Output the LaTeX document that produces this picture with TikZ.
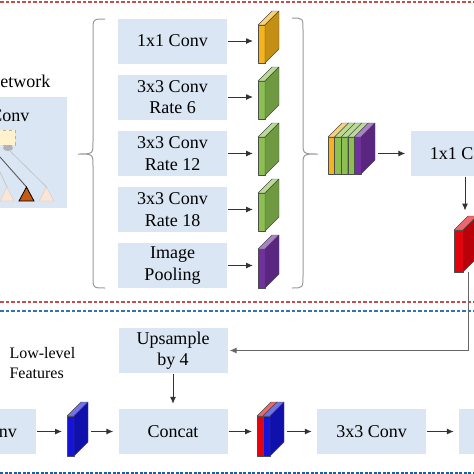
\documentclass[tikz,border=0pt]{standalone}
\usepackage{fontspec}
\setmainfont{Liberation Serif}
\usetikzlibrary{arrows.meta}

\definecolor{boxblue}{HTML}{DAE6F3}
\definecolor{mapyellow}{HTML}{F4B41A}
\definecolor{mapgreen}{HTML}{8CC152}
\definecolor{mappurple}{HTML}{7030A0}
\definecolor{mapred}{HTML}{E8000B}
\definecolor{mapblue}{HTML}{1414D8}
\definecolor{linered}{HTML}{C0504D}
\definecolor{lineblue}{HTML}{2E75B6}
\definecolor{linenavy}{HTML}{1F5F99}
\definecolor{treeorange}{HTML}{C55A11}
\definecolor{treepeach}{HTML}{FBE5D6}
\definecolor{treeyellow}{HTML}{FFF2CC}

\newcommand{\featmap}[6]{% name, x, y of front top corner, width, height, colour
  \filldraw[fill=#6, draw=black!70, line join=round] (#2,#3) rectangle ++(#4,#5); % front
  \filldraw[fill=#6!60!white, draw=black!70, line join=round] (#2,#3) -- ++(14,-14) -- ++(#4,0) -- ++(-14,14) -- cycle; % top
  \filldraw[fill=#6!80!black, draw=black!70, line join=round] (#2+#4,#3) -- ++(14,-14) -- ++(0,#5) -- ++(-14,14) -- cycle; % side
  \node[inner sep=0pt, minimum width=#4pt+14pt, minimum height=#5pt+14pt, anchor=south west] (#1) at (#2,#3+#5) {};
}

\begin{document}
\begin{tikzpicture}[x=1pt, y=-1pt, font=\fontsize{18}{21.6}\selectfont,
    box/.style={fill=boxblue, minimum width=109pt, minimum height=45pt, inner sep=0pt, align=center},
    arr/.style={-{Latex[length=7pt,width=6pt]}, line width=1pt, draw=black!80, shorten >=5pt, shorten <=1pt},
    sep/.style={line width=1.6pt, dash pattern=on 3.5pt off 2pt},
    brace/.style={draw=gray!80, line width=1pt}]
  \useasboundingbox (0,0) rectangle (474,474);
  \clip (0,0) rectangle (474,474); % the reference is cut at its edges

  % separators
  \draw[sep, linered] (0,2) -- (474,2);
  \draw[sep, linered] (0,302) -- (474,302);
  \draw[sep, lineblue] (0,311) -- (474,311);
  \draw[sep, linenavy, line width=2pt, dash pattern=on 3pt off 1.5pt] (0,472.5) -- (474,472.5);

  % encoder backbone
  \node[anchor=east] (net) at (54,81) {Network};
  \node[fill=boxblue, inner sep=0pt, minimum width=107pt, minimum height=111pt] (enc) at (13.5,152.5) {};
  \node[anchor=east] (atrous) at (33,116) {Conv};
  \filldraw[fill=treeyellow, draw=gray!60, dashed, line width=0.5pt] (-12,130) rectangle (15,145); % kernel
  \fill[gray!60] (8,148) ellipse (5 and 3);
  \draw[gray!45, line width=0.8pt] (9,150) -- (46.5,187);
  \draw[gray!45, line width=0.8pt] (0,172) -- (7,187);
  \draw[black!65, line width=0.9pt] (0,157) -- (26.5,187);
  \filldraw[fill=treepeach, draw=gray!40] (0,201) -- (7,187) -- (14,201) -- cycle;
  \filldraw[fill=treeorange, draw=black, line width=0.8pt] (19,201) -- (26.5,187) -- (34,201) -- cycle;
  \filldraw[fill=treepeach, draw=gray!40] (39,201) -- (46.5,187) -- (54,201) -- cycle;

  % atrous spatial pyramid pooling
  \draw[brace] (105,19) .. controls (93,19) .. (93,31) -- (93,142) .. controls (93,154) .. (78,154) .. controls (93,154) .. (93,166) -- (93,276) .. controls (93,288) .. (105,288); % left brace
  \node[box] (b1) at (172.5,41) {1x1 Conv};
  \node[box] (b6) at (172.5,97) {3x3 Conv\\Rate 6};
  \node[box] (b12) at (172.5,153.5) {3x3 Conv\\Rate 12};
  \node[box] (b18) at (172.5,209.5) {3x3 Conv\\Rate 18};
  \node[box] (pool) at (172.5,265.5) {Image\\Pooling};
  \featmap{m1}{258}{25}{7}{38}{mapyellow}
  \featmap{m6}{258}{81}{7}{38}{mapgreen}
  \featmap{m12}{258}{137}{7}{38}{mapgreen}
  \featmap{m18}{258}{193}{7}{38}{mapgreen}
  \featmap{mpool}{258}{249}{7}{39}{mappurple}
  \foreach \b/\m in {b1/m1, b6/m6, b12/m12, b18/m18, pool/mpool}
    \draw[arr] (\b.east) -- (\b.east -| \m.west);
  \draw[brace] (292,18) .. controls (303,18) .. (303,30) -- (303,142) .. controls (303,154) .. (318,154) .. controls (303,154) .. (303,166) -- (303,276) .. controls (303,288) .. (292,288); % right brace

  % concatenated maps
  \featmap{s1}{328}{137}{6.6}{37}{mapyellow}
  \featmap{s2}{334.6}{137}{6.6}{37}{mapgreen}
  \featmap{s3}{341.2}{137}{6.6}{37}{mapgreen}
  \featmap{s4}{347.8}{137}{6.6}{37}{mapgreen}
  \featmap{s5}{354.4}{137}{6.6}{37}{mappurple}
  \node[box] (conv) at (465,153.5) {1x1 Conv};
  \draw[arr, shorten <=3pt] (s5.east |- conv.west) -- (conv.west);
  \featmap{red}{454}{230}{9}{42}{mapred}
  \draw[arr] (conv.south) -- (conv.south |- red.north);

  % decoder
  \node[box] (up) at (173,350.5) {Upsample\\by 4};
  \node[box] (cat) at (173,431.5) {Concat};
  \node[box] (low) at (-18.5,431.5) {1x1 Conv};
  \node[box] (conv3) at (371.5,431.5) {3x3 Conv};
  \node[box] (out) at (513.5,431.5) {};
  \node[anchor=west, align=left, font=\fontsize{16}{19.4}\selectfont] (feat) at (6,363) {Low-level\\Features};
  \featmap{blue}{67}{416}{7}{40}{mapblue}
  \featmap{rb1}{257}{416}{6}{40}{mapred}
  \featmap{rb2}{263}{416}{7}{40}{mapblue}
  \draw[arr, draw=black!60, shorten >=2pt, shorten <=0pt] ([xshift=3pt]red.south) |- (up.east); % back to the decoder
  \draw[arr] (up.south) -- (cat.north);
  \draw[arr] (low.east) -- (low.east -| blue.west);
  \draw[arr, shorten <=3pt] (blue.east |- cat.west) -- (cat.west);
  \draw[arr] (cat.east) -- (cat.east -| rb1.west);
  \draw[arr, shorten <=3pt] (rb2.east |- conv3.west) -- (conv3.west);
  \draw[arr] (conv3.east) -- (out.west);
\end{tikzpicture}
\end{document}
